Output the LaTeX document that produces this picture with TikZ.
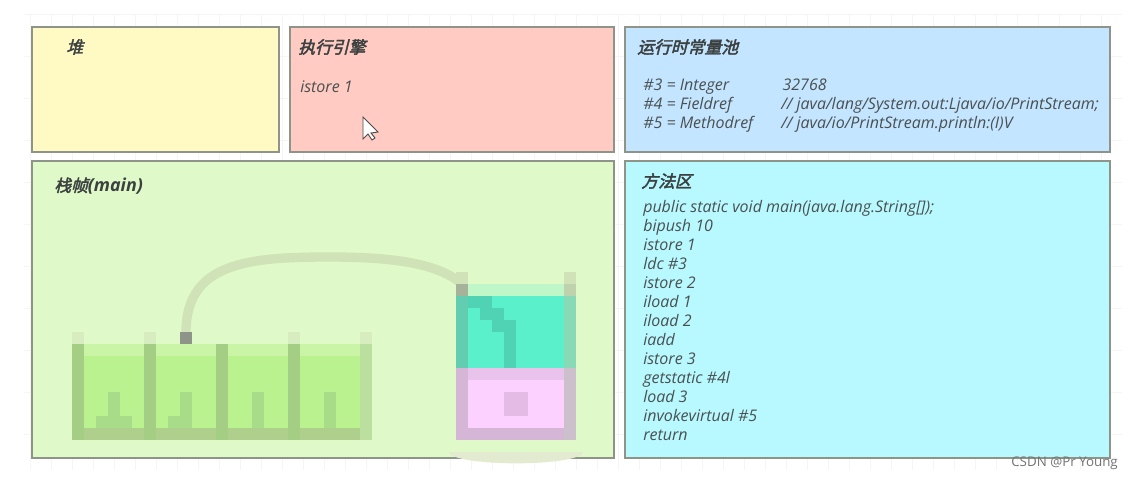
\documentclass[tikz,border=0pt]{standalone}
\usepackage{fontspec}
\setmainfont{Open Sans}
\newfontfamily\cjk[FakeSlant=0.25,FakeBold=2.5]{Noto Sans CJK SC}
\usetikzlibrary{positioning, shapes.geometric}
\definecolor{heapfill}{HTML}{FFFAC4}
\definecolor{enginefill}{HTML}{FFCBC2}
\definecolor{poolfill}{HTML}{C3E5FF}
\definecolor{framefill}{HTML}{E0F9C8}
\definecolor{methodfill}{HTML}{B7F9FF}
\definecolor{edgegray}{HTML}{8F9488}
\definecolor{slotfill}{HTML}{BAF290}
\definecolor{slotbar}{HTML}{A3CE84}
\definecolor{slotrow}{HTML}{CBF5A6}
\definecolor{slotbase}{HTML}{AED08C}
\definecolor{slotmark}{HTML}{A8DC88}
\definecolor{tracegreen}{HTML}{CFE2B8}
\definecolor{blurgreen}{HTML}{E2EAD0}
\definecolor{tealfill}{HTML}{5BF0CC}
\definecolor{tealbar}{HTML}{62CDB0}
\definecolor{pinkfill}{HTML}{FCD0FF}
\definecolor{pinkbar}{HTML}{D6B6D6}
\definecolor{pinkedge}{HTML}{CCC0CC}
\definecolor{textgray}{HTML}{4A5050}
\tikzstyle{area} = [rectangle, draw=edgegray, line width=1.2pt, anchor=north west, inner sep=0pt, outer sep=0pt]
\tikzstyle{title} = [anchor=west, inner sep=0pt, font=\cjk\fontsize{12.6}{14}\selectfont, text=textgray!80!black]
\tikzstyle{code} = [anchor=north west, inner sep=0pt, align=left, text=textgray, font=\itshape\fontsize{12}{14.25}\selectfont]
\tikzstyle{slot} = [rectangle, fill=slotfill, anchor=north west, inner sep=0pt, outer sep=0pt, minimum width=45pt, minimum height=54pt]
\tikzstyle{trace} = [line width=7pt, draw=tracegreen]
\tikzstyle{mosaic} = [rectangle, inner sep=0pt, outer sep=0pt, minimum size=9pt, anchor=north west]
\begin{document}
\begin{tikzpicture}[x=0.75pt,y=-0.75pt]
\useasboundingbox (0,0) rectangle (1133,480);
\fill[white] (0,0) rectangle (1133,480);
% faint sheet lines
\foreach \gx in {30,51,...,1118}
  \draw[black!4] (\gx,14) -- (\gx,470);
\foreach \gy in {14,56,...,470}
  \draw[black!4] (24,\gy) -- (1122,\gy);
% the five areas
\node (heap) [area, fill=heapfill, minimum width=185.25pt, minimum height=93.75pt] at (32,27) {};
\node (engine) [area, fill=enginefill, minimum width=243pt, minimum height=93.75pt] at (290,27) {};
\node (pool) [area, fill=poolfill, minimum width=363.75pt, minimum height=93.75pt] at (625,27) {};
\node (frame) [area, fill=framefill, minimum width=436.5pt, minimum height=222.75pt] at (32,161) {};
\node (method) [area, fill=methodfill, minimum width=363.75pt, minimum height=222.75pt] at (625,161) {};
\begin{scope}
\clip (440,452) rectangle (600,470);
\node (blur) [ellipse, fill=blurgreen, minimum width=101pt, minimum height=17pt, inner sep=0pt] at (516,452) {};
\end{scope}
\node (heapt) [title] at (66,47) {堆};
\node (enginet) [title] at (298,47) {执行引擎};
\node (poolt) [title] at (637,47) {运行时常量池};
\node (framet) [title] at (54,186) {栈帧{\rmfamily\bfseries\itshape\fontsize{13.4}{14}\selectfont (main)}};
\node (methodt) [title] at (641,181) {方法区};
\node (enginec) [code] at (300,80) {istore 1};
\node (poolc1) [code] at (643,79) {\#3 = Integer\\\#4 = Fieldref\\\#5 = Methodref};
\node (poolc2) [code] at (781,79) {\hspace{1pt}32768\\// java/lang/System.out:Ljava/io/PrintStream;\\// java/io/PrintStream.println:(I)V};
\node (methodc) [code] at (643,200) {public static void main(java.lang.String[]);\\bipush 10\\istore 1\\ldc \#3\\istore 2\\iload 1\\iload 2\\iadd\\istore 3\\getstatic \#4l\\load 3\\invokevirtual \#5\\return};
% local variable slots
\node (slot1) [slot] at (84,356) {};
\node (slot2) [slot] at (156,356) {};
\node (slot3) [slot] at (228,356) {};
\node (slot4) [slot] at (300,356) {};
\foreach \sx in {84,156,228,300}
  \fill[slotrow] (\sx,344) rectangle ++(60,12);
\fill[slotbase] (72,428) rectangle (372,440);
\foreach \sx in {72,144,216,288}
  \fill[slotbar] (\sx,344) rectangle ++(12,96);
\fill[slotbar!60!framefill] (360,344) rectangle (372,440);
\foreach \sx in {72,144,288,360}
  \fill[tracegreen!50!framefill] (\sx,332) rectangle ++(12,12);
\foreach \mx/\my in {108/392,108/404,96/416,108/416,120/416,180/392,180/404,180/416,168/416,252/392,252/404,252/416,324/392,324/404,324/416}
  \node [mosaic, fill=slotmark] at (\mx,\my) {};
% operand stack
\node (tos) [rectangle, fill=tealfill, anchor=north west, inner sep=0pt, outer sep=0pt, minimum width=90pt, minimum height=54pt] at (456,296) {};
\node (below) [rectangle, fill=pinkfill, anchor=north west, inner sep=0pt, outer sep=0pt, minimum width=90pt, minimum height=54pt] at (456,368) {};
\fill[tealfill!25!framefill] (456,284) rectangle (576,296);
\fill[tealbar] (456,296) rectangle ++(12,72);
\fill[tealbar!70!framefill] (564,296) rectangle ++(12,72);
\fill[pinkbar!50!pinkfill] (456,368) rectangle (576,380);
\fill[pinkbar] (456,428) rectangle (576,440);
\fill[pinkbar] (456,368) rectangle ++(12,72);
\fill[pinkedge] (564,368) rectangle ++(12,72);
\foreach \mx/\my in {468/296,480/296,480/308,492/308,492/320,504/320,504/332,504/344,504/356}
  \node [mosaic, fill=black!12!tealfill] at (\mx,\my) {};
\foreach \mx/\my in {504/392,516/392,504/404,516/404}
  \node [mosaic, fill=black!10!pinkfill] at (\mx,\my) {};
% value carried between slot and stack
\coordinate (from) at (186,332);
\coordinate (to) at (462,284);
\draw[trace] (from) .. controls (186,262) and (250,257) .. (330,257) .. controls (400,257) and (440,265) .. (to);
\node (fromdot) [mosaic, fill=edgegray] at (180,332) {};
\node (todot) [mosaic, fill=edgegray!70!framefill] at (456,284) {};
\node (tocap) [mosaic, fill=tracegreen] at (456,272) {};
\node (endcap) [mosaic, fill=tracegreen] at (564,272) {};
\node (endcap2) [mosaic, fill=edgegray!40!framefill] at (564,284) {};
\node (csdn) [anchor=east, inner sep=0pt, text=black!55, font=\fontsize{10}{12}\selectfont] at (1118,463) {CSDN @Pr Young};
% mouse pointer
\node (mouse) [coordinate] at (363,117) {};
\draw[black!70, fill=white, line width=0.7pt] (mouse) -- ++(0,22) -- ++(5,-5) -- ++(4,6) -- ++(3,-2) -- ++(-4,-5) -- ++(7,-1) -- cycle;
\end{tikzpicture}
\end{document}
